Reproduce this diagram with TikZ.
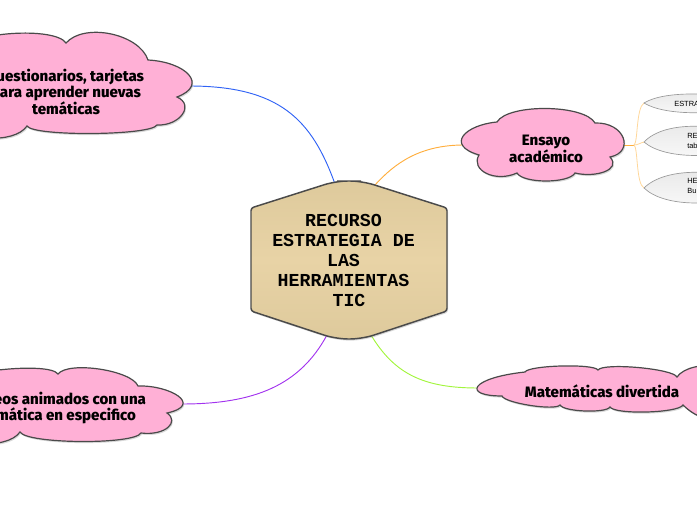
\documentclass[tikz,border=0pt]{standalone}
\usepackage{fontspec}
\setmainfont{Fira Sans}[BoldFont={Fira Sans ExtraBold}]
\newfontfamily\hubfont{Liberation Mono}
\newfontfamily\leaffont{Liberation Sans}
\usetikzlibrary{shadows}
\definecolor{cloudpink}{HTML}{FFB0D6}
\definecolor{cloudline}{HTML}{4A4A4A}
\definecolor{hubmid}{HTML}{E8D3A6}
\definecolor{hubedge}{HTML}{DECA9C}
\definecolor{linkblue}{HTML}{2F62F5}
\definecolor{linkorange}{HTML}{FFAE3D}
\definecolor{linkgreen}{HTML}{A2F53C}
\definecolor{linkviolet}{HTML}{A233EE}
\definecolor{linktwig}{HTML}{FFD79A}
\newcommand{\tsp}{\mbox{\ }}

\begin{document}
\begin{tikzpicture}[x=0.75pt,y=-0.75pt]
	\tikzstyle{cloud} = [draw=cloudline, line width=0.9pt, fill=cloudpink, drop shadow={shadow xshift=0.8pt, shadow yshift=-1.2pt, opacity=0.3}]
	\tikzstyle{bump} = [bend left=60, distance=#1*1.155pt]
	\tikzstyle{cloudtext} = [align=center, font=\fontsize{11.3}{12}\selectfont\bfseries, text=black, inner sep=0pt]
	\tikzstyle{link} = [line width=0.7pt]
	\tikzstyle{twig} = [line width=0.6pt, color=linktwig]
	\tikzstyle{leaf} = [draw=gray!80, line width=0.5pt, top color=gray!18, bottom color=gray!5]
	\tikzstyle{leaftext} = [align=left, anchor=west, font=\fontsize{5.6}{8}\selectfont\leaffont, inner sep=0pt]
	\useasboundingbox (0,0) rectangle (697,520);
	\clip (0,0) rectangle (697,520);

	\coordinate (hubTL) at (335,184); \coordinate (hubTR) at (375,185); \coordinate (hubBL) at (327,335); \coordinate (hubBR) at (371,335);
	\coordinate (cuesR) at (189,86); \coordinate (ensL) at (464,145); \coordinate (ensR) at (622,145); \coordinate (matL) at (478,388); \coordinate (vidR) at (182,404);
	\coordinate (fork) at (634,145); \coordinate (tipA) at (644,103); \coordinate (tipB) at (644,142); \coordinate (tipC) at (644,188);

	\draw[link, color=linkblue] (cuesR) .. controls (280,86) and (312,120) .. (hubTL);
	\draw[link, color=linkorange] (ensL) .. controls (420,145) and (395,163) .. (hubTR);
	\draw[link, color=linkgreen] (matL) .. controls (425,388) and (395,375) .. (hubBR);
	\draw[link, color=linkviolet] (vidR) .. controls (255,404) and (300,385) .. (hubBL);
	\draw[link, color=linkorange] (ensR) -- (fork);
	\draw[twig] (fork) .. controls (638,143) and (636,108) .. (tipA); \draw[twig] (fork) .. controls (638,145) and (640,143) .. (tipB); \draw[twig] (fork) .. controls (638,147) and (636,184) .. (tipC);

	\draw[draw=cloudline, line width=1.1pt, top color=hubedge, bottom color=hubedge, middle color=hubmid, drop shadow={shadow xshift=0.8pt, shadow yshift=-1.2pt, opacity=0.3}] (349,181) [rounded corners=9pt] -- (362,181) [rounded corners=2pt] -- (447,208) -- (447,311) [rounded corners=9pt] -- (362,339) -- (336,339) [rounded corners=2pt] -- (251,311) -- (251,208) [rounded corners=9pt] -- (336,181) -- cycle;
	\node[align=center, inner sep=0pt, font=\fontsize{13.7}{15}\selectfont\hubfont\bfseries] (hub) at (349,260) {RECURSO\tsp\\ESTRATEGIA DE\tsp\\LAS\tsp\\HERRAMIENTAS\tsp\\TIC};

	\draw[cloud] (66,43) to[bump=18] (148,60) .. controls (186,62) and (209,85) .. (177,97) .. controls (195,105) and (180,126) .. (157,125) to[bump=8] (27,126) to[bump=15] (-50,120) to[bump=30] (-40,50) to[bump=13] cycle;
	\node[cloudtext] (cues) at (66,92) {Cuestionarios, tarjetas\\para aprender nuevas\\temáticas};

	\draw[cloud] (497,122) to[bump=14] (595,123) .. controls (625,122) and (635,152) .. (610,157) .. controls (622,170) and (595,178) .. (575,173) to[bump=8] (517,173) .. controls (495,183) and (470,170) .. (479,155) .. controls (445,145) and (465,125) .. cycle;
	\node[cloudtext] (ens) at (546,149) {Ensayo\\académico};

	\draw[cloud] (525,372) to[bump=5] (598,370) to[bump=6] (677,377) to[bump=15] (760,384) to[bump=25] (683,405) to[bump=6] (610,407) to[bump=5] (560,405) to[bump=5] (502,396) .. controls (462,396) and (470,378) .. cycle;
	\node[cloudtext] (mat) at (602,391) {Matemáticas divertida};

	\draw[cloud] (58,374) to[bump=11] (138,386) .. controls (170,385) and (204,405) .. (167,413) .. controls (180,422) and (165,436) .. (141,433) to[bump=9] (20,432) to[bump=15] (-60,425) to[bump=25] (-50,385) to[bump=10] cycle;
	\node[cloudtext] (vid) at (59,408) {Videos animados con una\\temática en especifico};

	\draw[leaf] (tipA) .. controls (665,90) and (720,92) .. (760,103) .. controls (720,116) and (665,116) .. cycle;
	\draw[leaf] (tipB) .. controls (665,120) and (720,122) .. (770,142) .. controls (720,160) and (665,160) .. cycle;
	\draw[leaf] (tipC) .. controls (665,167) and (720,167) .. (770,188) .. controls (720,208) and (665,208) .. cycle;
	\node[leaftext] (leafA) at (674,103.5) {ESTRA};
	\node[leaftext] (leafB) at (687,141) {RE\\tab};
	\node[leaftext] (leafC) at (687,186) {HE\\Bu};
\end{tikzpicture}
\end{document}
